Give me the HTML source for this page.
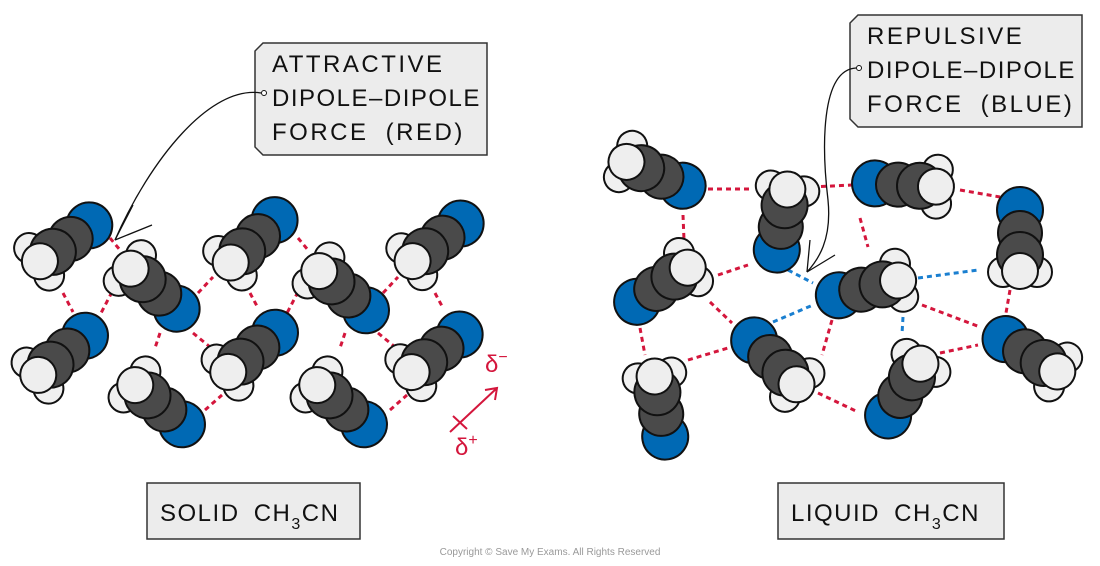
<!DOCTYPE html>
<html><head><meta charset="utf-8"><style>
html,body{margin:0;padding:0;background:#fff;}
svg{display:block;}
.t{font-family:"Liberation Sans",sans-serif;font-size:24px;letter-spacing:2.5px;word-spacing:8px;fill:#111;}
.r{stroke:#d4163c;stroke-width:3;stroke-dasharray:5 4;fill:none;}
.b{stroke:#1a7fd0;stroke-width:3;stroke-dasharray:5 4;fill:none;}
</style></head><body>
<svg width="1100" height="566" viewBox="0 0 1100 566" xmlns="http://www.w3.org/2000/svg">
<defs>
<g id="m" stroke="#111" stroke-width="2">
<circle cx="-32" cy="-17" r="15" fill="#f0f0f0"/>
<circle cx="-32" cy="17" r="15" fill="#f0f0f0"/>
<circle cx="30" cy="0" r="23" fill="#0069b4"/>
<circle cx="7" cy="0" r="22" fill="#4a4a4a"/>
<circle cx="-15" cy="0" r="23" fill="#4a4a4a"/>
<circle cx="-31" cy="0" r="18" fill="#eeeeee"/>
</g>
</defs>

<g class="r">
<path d="M110 238L120 250M63 293L73 312M112 292L100 315M198 293L213 277M250 293L258 308M160 333L155 348M193 333L210 347M205 410L222 395"/>
<path d="M298 238L308 250M298 292L286 315M383 293L398 277M435 293L443 308M345 333L340 348M378 333L395 347M390 410L407 395"/>
</g>
<g class="r">
<path d="M690 189L752 189M812 187L852 185M960 190L1000 197M683 215L684 240M860 218L868 247"/>
<path d="M718 275L748 265M710 302L732 323M640 328L645 355M688 360L728 348M832 320L822 355M922 305L980 327M940 353L978 345M1010 290L1006 313M818 393L858 412"/>
</g>
<g class="b">
<path d="M788 270L813 283M773 322L813 305M903 317L902 334M918 278L978 270"/>
</g>

<use href="#m" transform="translate(65,243) rotate(-36)"/>
<use href="#m" transform="translate(154,289) rotate(41)"/>
<use href="#m" transform="translate(253,241) rotate(-44)"/>
<use href="#m" transform="translate(343,291) rotate(40)"/>
<use href="#m" transform="translate(437,242) rotate(-38)"/>
<use href="#m" transform="translate(62,355) rotate(-40)"/>
<use href="#m" transform="translate(159,405) rotate(40)"/>
<use href="#m" transform="translate(252,352) rotate(-40)"/>
<use href="#m" transform="translate(341,405) rotate(40)"/>
<use href="#m" transform="translate(436,353) rotate(-38)"/>

<use href="#m" transform="translate(655,174) rotate(23)"/>
<use href="#m" transform="translate(782,220) rotate(100)"/>
<use href="#m" transform="translate(905,185) rotate(-177)"/>
<use href="#m" transform="translate(1020,240) rotate(-90)"/>
<use href="#m" transform="translate(662,285) rotate(146)"/>
<use href="#m" transform="translate(868,288) rotate(166)"/>
<use href="#m" transform="translate(775,362) rotate(-134)"/>
<use href="#m" transform="translate(904,390) rotate(122)"/>
<use href="#m" transform="translate(1031,355) rotate(-148)"/>
<use href="#m" transform="translate(660,407) rotate(80)"/>

<g stroke="#d4163c" stroke-width="2" fill="none">
<path d="M450 432L497 388M485 390L497 388L495 400M453 416L467 429"/>
</g>
<text x="485" y="372" font-family="Liberation Sans,sans-serif" font-size="24" fill="#d4163c">δ<tspan font-size="16" dy="-10">−</tspan></text>
<text x="455" y="455" font-family="Liberation Sans,sans-serif" font-size="24" fill="#d4163c">δ<tspan font-size="16" dy="-10">+</tspan></text>

<path d="M263 43H487V155H263L255 147V51Z" fill="#ececec" stroke="#333" stroke-width="1.5"/>
<text class="t" x="272" y="72">ATTRACTIVE</text>
<text class="t" x="272" y="106" style="letter-spacing:1.5px">DIPOLE–DIPOLE</text>
<text class="t" x="272" y="140">FORCE (RED)</text>
<circle cx="264" cy="93" r="2.5" fill="#fff" stroke="#111"/>
<path d="M261 93C210 85 150 160 115 240" stroke="#111" stroke-width="1.3" fill="none"/>
<path d="M115 240L133 205M115 240L152 225" stroke="#111" stroke-width="1.3" fill="none"/>

<path d="M858 15H1082V127H858L850 119V23Z" fill="#ececec" stroke="#333" stroke-width="1.5"/>
<text class="t" x="867" y="44">REPULSIVE</text>
<text class="t" x="867" y="78" style="letter-spacing:1.5px">DIPOLE–DIPOLE</text>
<text class="t" x="867" y="112">FORCE (BLUE)</text>
<circle cx="859" cy="68" r="2.5" fill="#fff" stroke="#111"/>
<path d="M856 68C820 70 822 150 828 200C832 240 818 260 807 272" stroke="#111" stroke-width="1.3" fill="none"/>
<path d="M807 272L810 240M807 272L835 255" stroke="#111" stroke-width="1.3" fill="none"/>

<rect x="147" y="483" width="213" height="56" fill="#ececec" stroke="#333" stroke-width="1.5"/>
<text class="t" x="160" y="521" style="letter-spacing:1.5px;word-spacing:6px">SOLID CH<tspan font-size="16" dy="8">3</tspan><tspan dy="-8">CN</tspan></text>
<rect x="778" y="483" width="226" height="56" fill="#ececec" stroke="#333" stroke-width="1.5"/>
<text class="t" x="791" y="521" style="letter-spacing:1.5px;word-spacing:6px">LIQUID CH<tspan font-size="16" dy="8">3</tspan><tspan dy="-8">CN</tspan></text>

<text x="550" y="555" text-anchor="middle" font-family="Liberation Sans,sans-serif" font-size="10" fill="#999">Copyright © Save My Exams. All Rights Reserved</text>
</svg>
</body></html>
